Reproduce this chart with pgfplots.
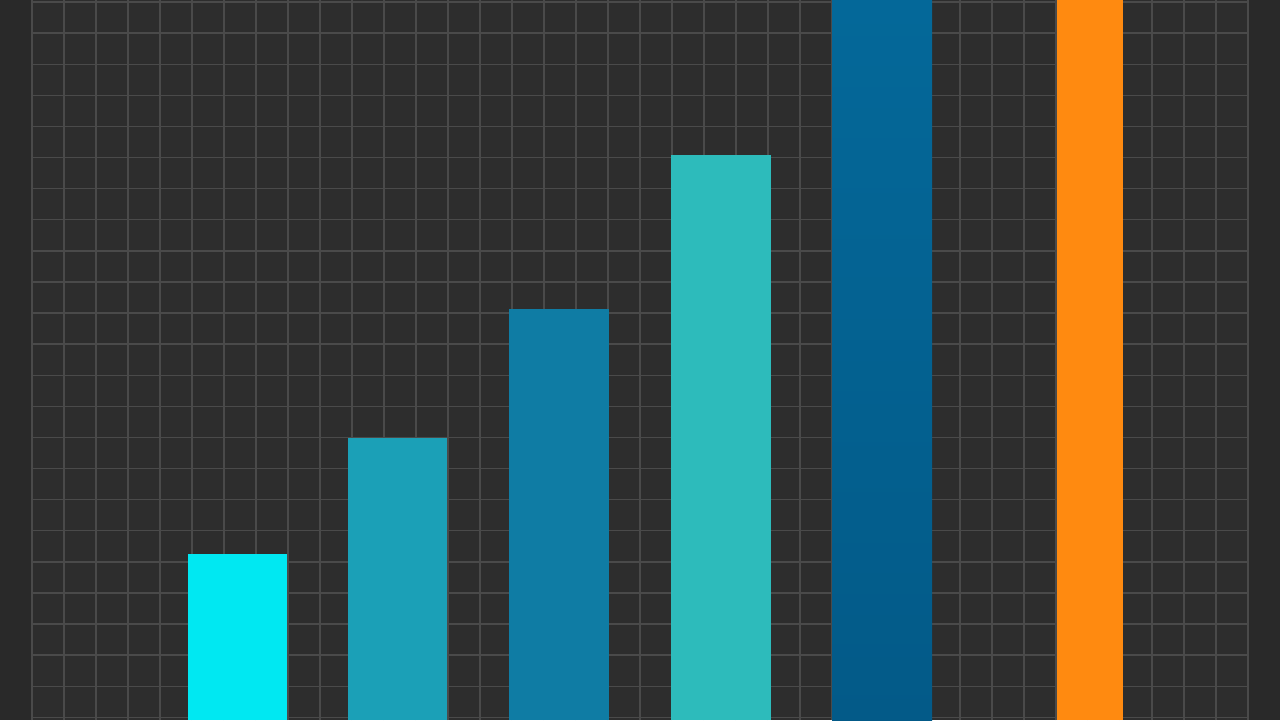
\documentclass[border=0pt]{standalone}
\usepackage{pgfplots}
\pgfplotsset{compat=1.18}
\definecolor{outerbg}{HTML}{292929}
\definecolor{innerbg}{HTML}{2D2D2D}
\definecolor{gridc}{HTML}{4A4A4A}
\definecolor{barA}{HTML}{00E8F2}
\definecolor{barB}{HTML}{1BA0B7}
\definecolor{barC}{HTML}{0F7CA4}
\definecolor{barD}{HTML}{2DBBBB}
\definecolor{barEtop}{HTML}{04699A}
\definecolor{barEbot}{HTML}{035A88}
\definecolor{barF}{HTML}{FF8A10}
\begin{document}
\begin{tikzpicture}
% page background, 1280 x 720 px at 0.0125cm per px
\fill[outerbg] (0,0) rectangle (16cm,9cm);
\begin{axis}[
    at={(0.4cm,0cm)}, anchor=south west,
    scale only axis,
    width=15.2cm, height=9cm,
    xmin=32, xmax=1248,
    ymin=0, ymax=720,
    axis line style={draw=none},
    axis background/.style={fill=innerbg},
    xtick={32,64,...,1248},
    ytick={2.7,33.8,...,718},
    xticklabels={}, yticklabels={},
    major tick length=0pt,
    grid=major,
    grid style={gridc, line width=0.5pt},
    ybar, bar shift=0pt,
    clip=true,
]
% bars read as pixel positions: centre x, height from bottom edge
\addplot[fill=barA, draw=none, bar width=99] coordinates {(237.5,166)};
\addplot[fill=barB, draw=none, bar width=99] coordinates {(397.5,282)};
\addplot[fill=barC, draw=none, bar width=100] coordinates {(559,411)};
\addplot[fill=barD, draw=none, bar width=100] coordinates {(721,565)};
\addplot[draw=none, top color=barEtop, bottom color=barEbot, bar width=100] coordinates {(882,760)};
\addplot[fill=barF, draw=none, bar width=66] coordinates {(1090,760)};
\end{axis}
\pgfresetboundingbox
\path (0,0) rectangle (16cm,9cm);
\end{tikzpicture}
\end{document}
